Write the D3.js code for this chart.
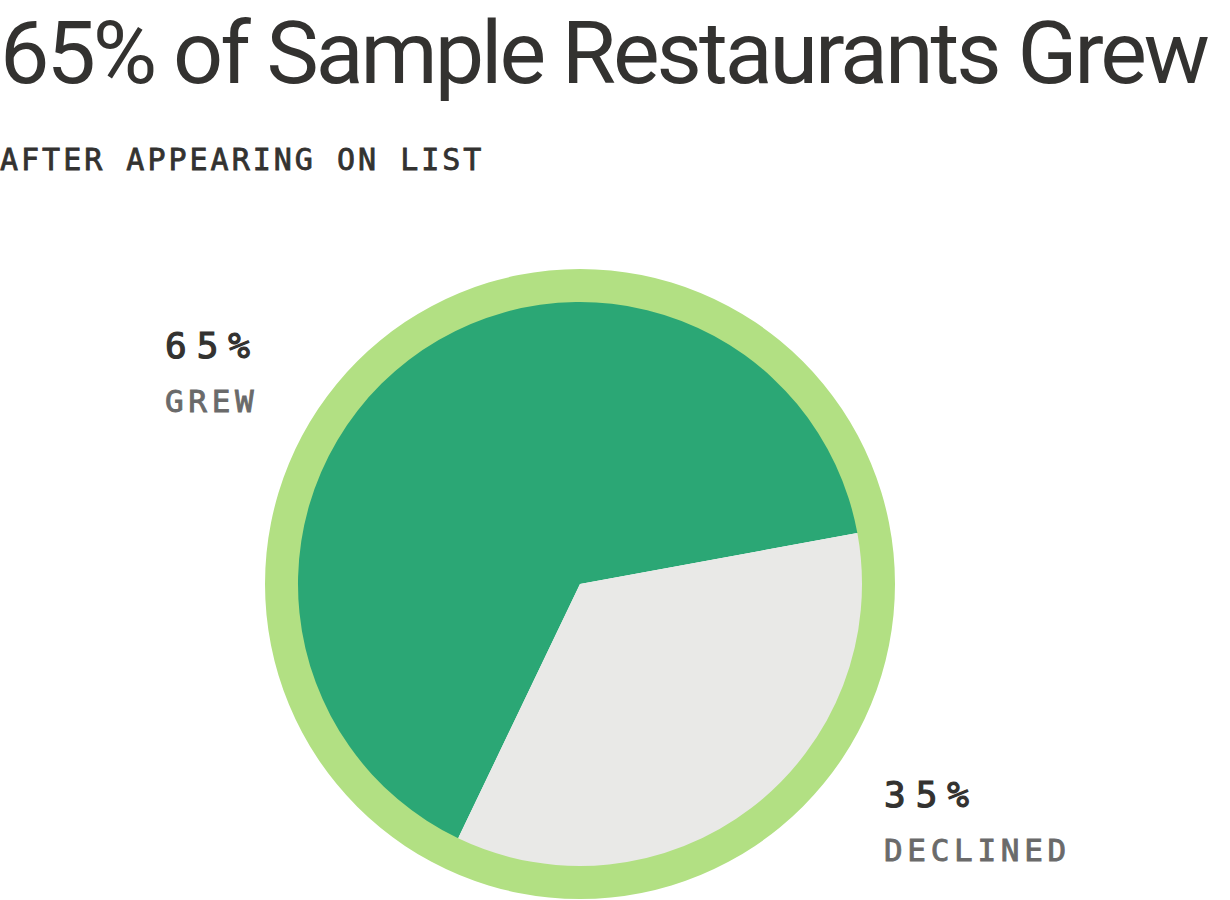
<!DOCTYPE html>
<html>
<head>
<meta charset="utf-8">
<script src="https://cdn.jsdelivr.net/npm/d3@7"></script>
<style>
  html, body { margin: 0; padding: 0; background: #fff; }
  svg { display: block; }
</style>
</head>
<body>
<div id="chart"></div>
<script>
const categories = ["Grew", "Declined"];
const shares = [65, 35];
const valueLabels = ["65%", "35%"];
const nameLabels = ["GREW", "DECLINED"];
const sliceColors = ["#2ba775", "#e9e9e7"];

const titleText = "65% of Sample Restaurants Grew";
const subtitleText = "AFTER APPEARING ON LIST";

const width = 1230, height = 900;
const cx = 580, cy = 584;
const pieRadius = 282, ringOuter = 315;
const ringColor = "#b2e083";
const textDark = "#333230", textGray = "#6a6a6a";
const monoFont = "'DejaVu Sans Mono', monospace";

const svg = d3.select("#chart").append("svg")
    .attr("width", width)
    .attr("height", height);

// title, stretched so it runs edge to edge like the original
const title = svg.append("text")
    .attr("x", 0)
    .attr("y", 83)
    .style("font-family", "Roboto, sans-serif")
    .style("font-size", "88px")
    .style("fill", textDark)
    .text(titleText);
const titleLen = title.node().getComputedTextLength();
title.style("letter-spacing", `${(1210 - titleLen) / (titleText.length - 1)}px`);

// mono text looks a bit heavier in the original, thicken with a thin stroke
svg.append("text")
    .attr("x", 0)
    .attr("y", 170)
    .style("font-family", monoFont)
    .style("font-size", "30px")
    .style("letter-spacing", "3px")
    .style("fill", textDark)
    .style("stroke", textDark)
    .style("stroke-width", "0.8px")
    .text(subtitleText);

const g = svg.append("g")
    .attr("transform", `translate(${cx}, ${cy})`);

// outer ring
g.append("path")
    .attr("d", d3.arc()({ innerRadius: pieRadius - 1, outerRadius: ringOuter, startAngle: 0, endAngle: 2 * Math.PI }))
    .attr("fill", ringColor);

const startDeg = 205.6;
const pie = d3.pie()
    .sort(null)
    .startAngle(startDeg * Math.PI / 180)
    .endAngle(startDeg * Math.PI / 180 + 2 * Math.PI);

const arc = d3.arc().innerRadius(0).outerRadius(pieRadius);

g.selectAll("path.slice")
    .data(pie(shares))
    .enter()
    .append("path")
    .attr("class", "slice")
    .attr("d", arc)
    .attr("fill", (d, i) => sliceColors[i]);

// labels
const labelPos = [
  { x: 165, y: 358 },
  { x: 884, y: 807 }
];

categories.forEach((c, i) => {
  svg.append("text")
      .attr("x", labelPos[i].x)
      .attr("y", labelPos[i].y)
      .style("font-family", monoFont)
      .style("font-size", "36px")
      .style("letter-spacing", "10px")
      .style("fill", textDark)
      .style("stroke", textDark)
      .style("stroke-width", "1.2px")
      .text(valueLabels[i]);

  svg.append("text")
      .attr("x", labelPos[i].x)
      .attr("y", labelPos[i].y + 54)
      .style("font-family", monoFont)
      .style("font-size", "31px")
      .style("letter-spacing", "4.7px")
      .style("fill", textGray)
      .style("stroke", textGray)
      .style("stroke-width", "0.9px")
      .text(nameLabels[i]);
});
</script>
</body>
</html>
